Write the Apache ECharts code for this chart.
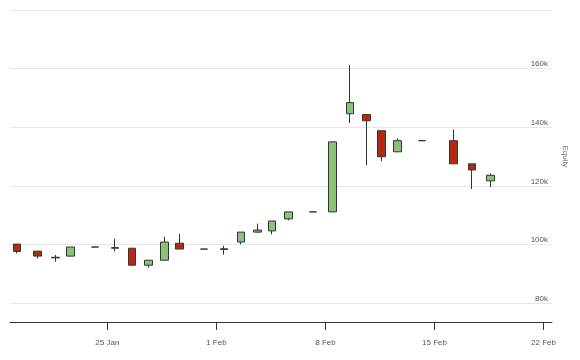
<!DOCTYPE html>
<html>
<head>
<meta charset="utf-8">
<script src="https://cdn.jsdelivr.net/npm/echarts@6/dist/echarts.min.js"></script>
<style>
html,body{margin:0;padding:0;background:#fff;}
#c{width:580px;height:360px;}
</style>
</head>
<body>
<div id="c"></div>
<script>
const dates = [
  '2021-01-19 05:00','2021-01-20 12:00','2021-01-21 16:00','2021-01-22 15:00','2021-01-24 05:00',
  '2021-01-25 12:00','2021-01-26 14:00','2021-01-27 15:00','2021-01-28 16:00','2021-01-29 15:00',
  '2021-01-31 05:00','2021-02-01 12:00','2021-02-02 14:00','2021-02-03 15:00','2021-02-04 14:00',
  '2021-02-05 15:00','2021-02-07 05:00','2021-02-08 11:00','2021-02-09 14:00','2021-02-10 15:00',
  '2021-02-11 14:00','2021-02-12 15:00','2021-02-14 05:00','2021-02-16 05:00','2021-02-17 10:00',
  '2021-02-18 14:00'
];
const opens  = [100100, 97700, 95600, 96000, 99100, 98900, 98700, 92900, 94600, 100400,
                98400, 98500, 100800, 104200, 104600, 108700, 111100, 111100, 144600, 144300,
                138800, 131600, 135400, 135400, 127500, 121700];
const closes = [97600, 96000, 95400, 99100, 99100, 98700, 92900, 94600, 100800, 98400,
                98400, 98300, 104200, 104900, 108000, 111100, 111100, 135000, 148400, 142200,
                129900, 135400, 135400, 127500, 125400, 123600];
const lows   = [96900, 95200, 94100, 96000, 99100, 97600, 92900, 92100, 94600, 98400,
                98400, 96500, 100000, 103900, 103400, 108200, 111100, 111100, 141400, 127000,
                128400, 131600, 135400, 127500, 118900, 119600];
const highs  = [100100, 97700, 96400, 99100, 99100, 101900, 98700, 94600, 102600, 103600,
                98400, 99500, 104200, 107100, 108000, 111100, 111100, 135000, 161200, 144300,
                138800, 136200, 135400, 139200, 127500, 124200];
const tickDates = ['2021-01-25','2021-02-01','2021-02-08','2021-02-15','2021-02-22'];
const xMin = '2021-01-18 18:00';
const xMax = '2021-02-22 13:00';
const months = ['Jan','Feb','Mar','Apr','May','Jun','Jul','Aug','Sep','Oct','Nov','Dec'];

function ts(s){
  const m = s.match(/(\d+)-(\d+)-(\d+)(?: (\d+):(\d+))?/);
  return Date.UTC(+m[1], +m[2]-1, +m[3], m[4]?+m[4]:0, m[5]?+m[5]:0);
}
const data = dates.map((d,i)=>[ts(d), opens[i], closes[i], lows[i], highs[i]]);
const tickVals = tickDates.map(d=>ts(d));

const chart = echarts.init(document.getElementById('c'));
const font = "'Liberation Sans', Arial, sans-serif";
chart.setOption({
  animation:false,
  grid:{left:10,right:28,top:10,bottom:57},
  xAxis:{
    type:'value',
    min:ts(xMin), max:ts(xMax),
    offset:19,
    axisLine:{show:true,lineStyle:{color:'#333',width:1}},
    axisTick:{show:true,length:8,lineStyle:{color:'#333'},customValues:tickVals},
    axisLabel:{customValues:tickVals,margin:17,color:'#555',fontSize:8,fontFamily:font,
      formatter:function(v){const d=new Date(v);return d.getUTCDate()+' '+months[d.getUTCMonth()];}},
    splitLine:{show:false}
  },
  yAxis:{
    type:'value',position:'right',
    min:80000,max:180000,interval:20000,
    name:'Equity',nameLocation:'middle',nameRotate:-90,nameGap:6,
    nameTextStyle:{color:'#777',fontSize:8,fontFamily:font},
    axisLine:{show:false},axisTick:{show:false},
    axisLabel:{inside:true,margin:4,showMaxLabel:false,color:'#555',fontSize:8,fontFamily:font,
      verticalAlign:'bottom',lineHeight:9,
      formatter:function(v){return (v/1000)+'k';}},
    splitLine:{show:true,lineStyle:{color:'#e6e6e6',width:1}}
  },
  series:[{
    type:'candlestick',
    barWidth:8,
    data:data,
    encode:{x:0,y:[1,2,3,4]},
    itemStyle:{color:'#8dc17a',color0:'#b7280e',borderColor:'#2c3838',borderColor0:'#2c3838',borderWidth:1}
  }]
});
</script>
</body>
</html>
